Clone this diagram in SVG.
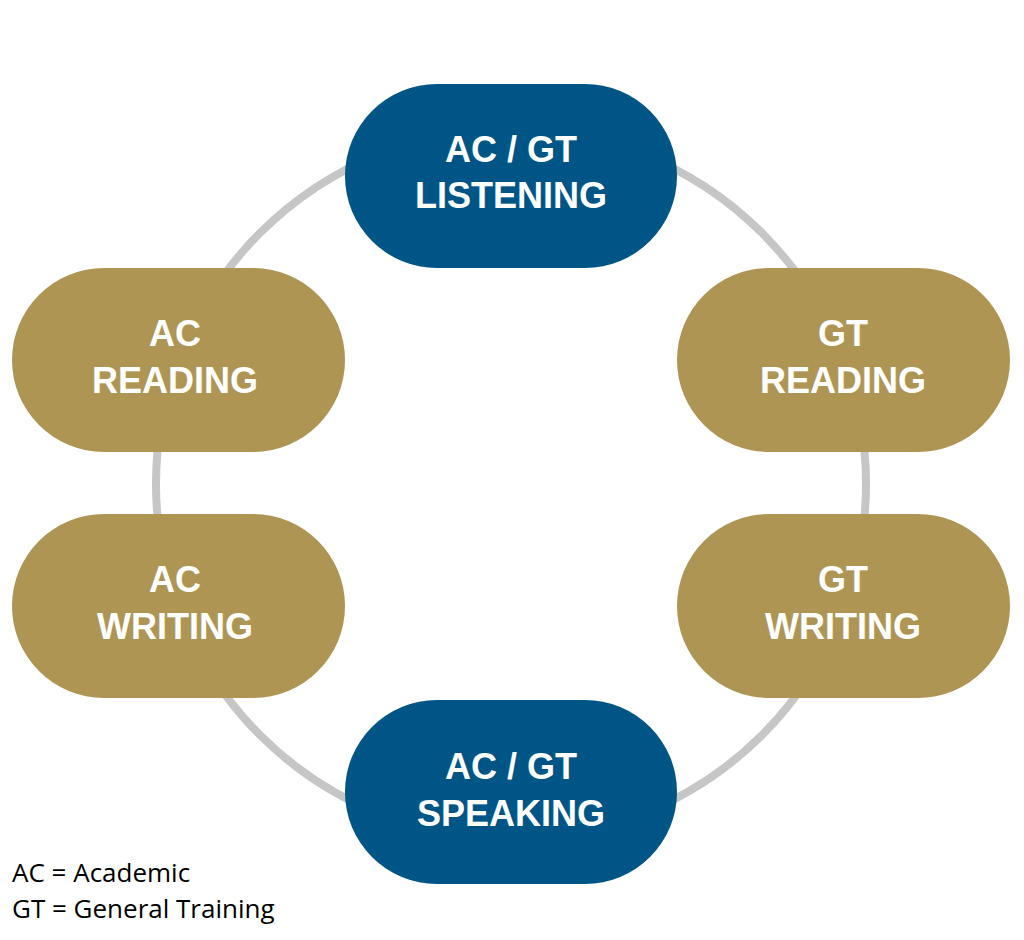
<svg xmlns="http://www.w3.org/2000/svg" width="1024" height="940" viewBox="0 0 1024 940">
<style>
.b{fill:#005587}.g{fill:#AF9554}
.t{fill:#fff;font-family:"Liberation Sans",Arial,sans-serif;font-weight:bold;font-size:36px;text-anchor:middle}
.l{fill:#000;font-family:"Open Sans","Liberation Sans",sans-serif;font-size:26px}
</style>
<rect width="1024" height="940" fill="#fff"/>
<g id="connectors"><circle cx="511" cy="484" r="355" fill="none" stroke="#C6C6C6" stroke-width="8"/></g>
<g id="listening"><rect class="b" x="345" y="84" width="332" height="184" rx="92"/><text class="t" x="511" y="162">AC / GT</text><text class="t" x="511" y="208">LISTENING</text></g>
<g id="ac-reading"><rect class="g" x="12" y="268" width="333" height="184" rx="92"/><text class="t" x="175" y="346">AC</text><text class="t" x="175" y="393">READING</text></g>
<g id="gt-reading"><rect class="g" x="677" y="268" width="333" height="184" rx="92"/><text class="t" x="843" y="346">GT</text><text class="t" x="843" y="393">READING</text></g>
<g id="ac-writing"><rect class="g" x="12" y="514" width="333" height="184" rx="92"/><text class="t" x="175" y="592">AC</text><text class="t" x="175" y="639">WRITING</text></g>
<g id="gt-writing"><rect class="g" x="677" y="514" width="333" height="184" rx="92"/><text class="t" x="843" y="592">GT</text><text class="t" x="843" y="639">WRITING</text></g>
<g id="speaking"><rect class="b" x="345" y="700" width="332" height="184" rx="92"/><text class="t" x="511" y="779">AC / GT</text><text class="t" x="511" y="826">SPEAKING</text></g>
<g id="legend"><text class="l" x="12" y="882">AC = Academic</text><text class="l" x="12" y="918">GT = General Training</text></g>
</svg>
